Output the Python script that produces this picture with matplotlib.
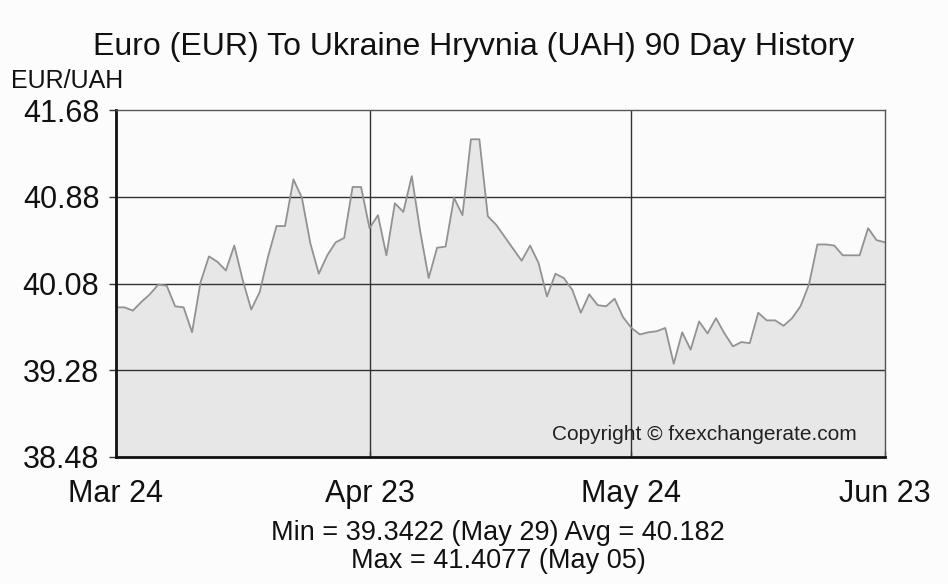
import matplotlib
matplotlib.use("Agg")
import matplotlib.pyplot as plt
import pandas as pd

plt.rcParams['font.family'] = ['Liberation Sans', 'DejaVu Sans']

start_date = "2024-03-24"
end_date = "2024-06-23"
rates = [
    39.86, 39.86, 39.83, 39.91, 39.98, 40.07, 40.06, 39.87, 39.86, 39.63,
    40.09, 40.33, 40.28, 40.20, 40.43, 40.11, 39.84, 40.00, 40.33, 40.61,
    40.61, 41.04, 40.87, 40.45, 40.17, 40.34, 40.46, 40.50, 40.97, 40.97,
    40.59, 40.71, 40.34, 40.82, 40.74, 41.07, 40.56, 40.13, 40.41, 40.42,
    40.87, 40.71, 41.41, 41.41, 40.70, 40.62, 40.51, 40.40, 40.29, 40.43,
    40.27, 39.96, 40.17, 40.13, 40.02, 39.81, 39.98, 39.88, 39.87, 39.94,
    39.77, 39.67, 39.61, 39.63, 39.64, 39.67, 39.34, 39.63, 39.47, 39.73,
    39.62, 39.76, 39.62, 39.50, 39.54, 39.53, 39.81, 39.74, 39.74, 39.69,
    39.76, 39.87, 40.07, 40.44, 40.44, 40.43, 40.34, 40.34, 40.34, 40.59,
    40.48, 40.46,
]
y_ticks = [38.48, 39.28, 40.08, 40.88, 41.68]
x_tick_dates = ["2024-03-24", "2024-04-23", "2024-05-24", "2024-06-23"]
x_tick_labels = ["Mar 24", "Apr 23", "May 24", "Jun 23"]
title = "Euro (EUR) To Ukraine Hryvnia (UAH) 90 Day History"
unit_label = "EUR/UAH"
stats_line1 = "Min = 39.3422 (May 29) Avg = 40.182"
stats_line2 = "Max = 41.4077 (May 05)"
copyright_text = "Copyright \u00a9 fxexchangerate.com"

dates = pd.date_range(start_date, end_date, freq="D")
xt = pd.to_datetime(x_tick_dates)

fig = plt.figure(figsize=(9.48, 5.84), dpi=100, facecolor="#fcfcfc")
ax = fig.add_axes([116/948, 1-457/584, (885-116)/948, (457-110)/584])
ax.set_facecolor("#fbfbfb")

ax.fill_between(dates, rates, y_ticks[0], color="#e7e7e7", linewidth=0, zorder=1)
ax.plot(dates, rates, color="#929292", linewidth=1.3, zorder=3)

ax.set_xlim(dates[0], dates[-1])
ax.set_ylim(y_ticks[0], y_ticks[-1])
ax.set_yticks(y_ticks)
ax.set_yticklabels([f"{v:.2f}" for v in y_ticks])
ax.set_xticks(xt)
ax.set_xticklabels(x_tick_labels)

for v in y_ticks[1:-1]:
    ax.axhline(v, color="#333333", linewidth=1.0, zorder=2)
for d in xt[1:-1]:
    ax.axvline(d, color="#333333", linewidth=1.0, zorder=2)

for side in ["top", "right"]:
    ax.spines[side].set_color("#555555")
    ax.spines[side].set_linewidth(1.0)
ax.spines["left"].set_color("#111111")
ax.spines["left"].set_linewidth(2.0)
ax.spines["bottom"].set_color("#111111")
ax.spines["bottom"].set_linewidth(2.0)
for s in ax.spines.values():
    s.set_zorder(4)

ax.tick_params(axis="y", direction="out", length=5, width=1, color="#333333",
               labelsize=22, pad=7, labelcolor="#111111")
ax.tick_params(axis="x", direction="in", length=4, width=1, color="#333333",
               labelsize=22, pad=16, labelcolor="#111111")

fig.text(0.5, 1-47/584, title, ha="center", va="center", fontsize=23, color="#111111")
fig.text(11/948, 1-81/584, unit_label, ha="left", va="center", fontsize=18, color="#111111")
ax.text((857-116)/769, 0.066, copyright_text, transform=ax.transAxes, ha="right", va="center",
        fontsize=15, color="#222222", zorder=5)
fig.text(498/948, 1-533/584, stats_line1, ha="center", va="center", fontsize=19.5, color="#111111")
fig.text(498/948, 1-561/584, stats_line2, ha="center", va="center", fontsize=19.5, color="#111111")

fig.savefig("out.png", dpi=100, facecolor=fig.get_facecolor())
